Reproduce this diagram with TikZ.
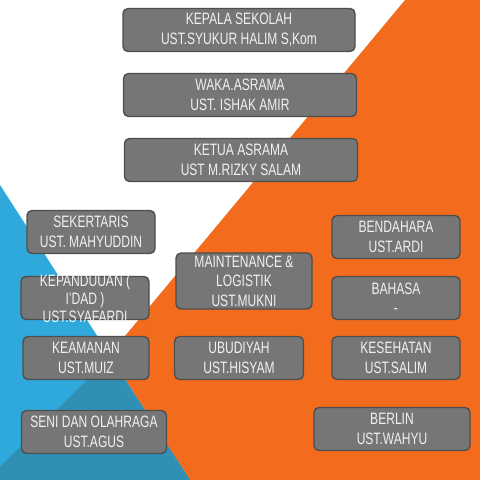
\documentclass[tikz,border=0pt]{standalone}
\usepackage{fontspec}
\setmainfont{Liberation Sans}[FakeStretch=0.73]
\usepackage{xcolor}
\usetikzlibrary{calc, positioning}
\definecolor{orng}{HTML}{F36C1E}
\definecolor{skyb}{HTML}{2FA9DC}
\definecolor{teal2}{HTML}{2F90B3}
\definecolor{boxg}{HTML}{767676}
\definecolor{boxd}{HTML}{4E4E4E}

\begin{document}
\begin{tikzpicture}[x=1pt, y=-1pt,
  jab/.style={draw=boxd, line width=1.4pt, fill=boxg, rounded corners=5pt,
    text=white!94!black, align=center, inner sep=0pt,
    minimum height=43pt, font=\fontsize{16.5}{19.5}\selectfont}]
\useasboundingbox (0,0) rectangle (480,480);
\fill[white] (0,0) rectangle (480,480);
\fill[orng] (405,0) -- (480,0) -- (480,480) -- (5,480) -- cycle;
\fill[skyb] (0,185) -- (190,480) -- (0,480) -- cycle;
\fill[teal2] (110,357) -- (190,480) -- (0,480) -- (0,467) -- cycle;

\node[jab, minimum width=232pt] (kepsek) at (239,30) {KEPALA SEKOLAH\\UST.SYUKUR HALIM S,Kom};
\node[jab, minimum width=233pt] (waka) at (240,95) {WAKA.ASRAMA\\UST. ISHAK AMIR};
\node[jab, minimum width=233pt] (ketua) at (241,160) {KETUA ASRAMA\\UST M.RIZKY SALAM};
\node[jab, minimum width=128pt] (sekr) at (91,232) {SEKERTARIS\\UST. MAHYUDDIN};
\node[jab, minimum width=128pt] (pandu) at (85,298) {\raisebox{-5pt}[0pt][0pt]{\parbox[c]{128pt}{\centering\fontsize{16.5}{18}\selectfont KEPANDUUAN (\\I'DAD )\\UST.SYAFARDI}}};
\node[jab, minimum width=126pt] (aman) at (86,358) {KEAMANAN\\UST.MUIZ};
\node[jab, minimum width=145pt] (seni) at (94,432) {SENI DAN OLAHRAGA\\UST.AGUS};
\node[jab, minimum width=136pt, minimum height=56pt] (mainten) at (244,281) {MAINTENANCE \&\\LOGISTIK\\UST.MUKNI};
\node[jab, minimum width=129pt] (ubud) at (239,358) {UBUDIYAH\\UST.HISYAM};
\node[jab, minimum width=128pt] (bend) at (396,237) {BENDAHARA\\UST.ARDI};
\node[jab, minimum width=128pt] (bhs) at (396,298) {BAHASA\\-};
\node[jab, minimum width=128pt] (sehat) at (396,358) {KESEHATAN\\UST.SALIM};
\node[jab, minimum width=156pt] (berlin) at (392,429) {BERLIN\\UST.WAHYU};
\end{tikzpicture}
\end{document}
